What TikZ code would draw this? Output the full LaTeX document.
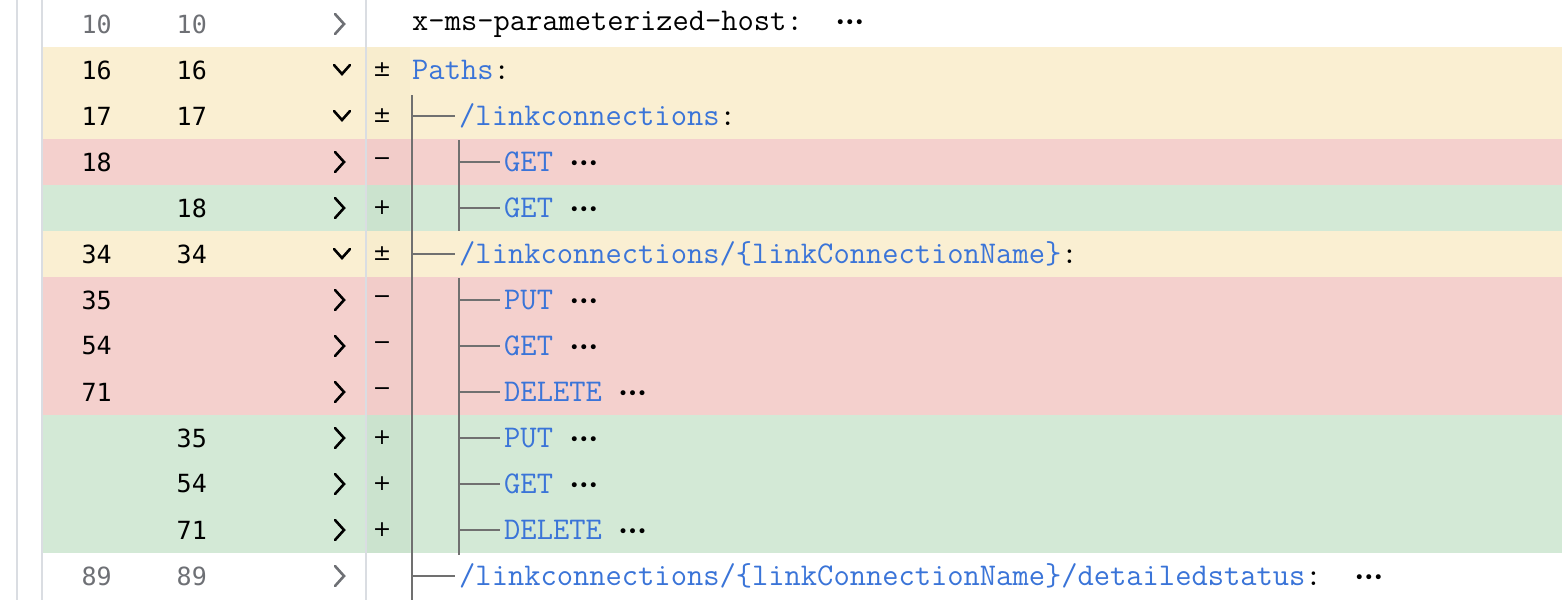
\documentclass[tikz,border=0pt]{standalone}
\usepackage{fontspec}
\newfontfamily\numfont{DejaVu Sans Mono}
\newfontfamily\dvs{DejaVu Sans}
\definecolor{bgY}{HTML}{FAEFD2}
\definecolor{bgR}{HTML}{F4D0CD}
\definecolor{bgG}{HTML}{D3E9D6}
\definecolor{bgGd}{HTML}{CBE3CE}
\definecolor{bgRd}{HTML}{F2CCC9}
\definecolor{bgYd}{HTML}{F8EDCE}
\definecolor{blu}{HTML}{3A74D8}
\definecolor{sep}{HTML}{DADDE2}
\definecolor{gr}{HTML}{6E7075}
\definecolor{tree}{HTML}{707070}
\tikzset{
  num/.style={anchor=east,inner sep=0,font=\numfont\fontsize{25}{25}\selectfont},
  code/.style={anchor=west,inner sep=0,font=\ttfamily\fontsize{31.6}{32}\selectfont},
  signsym/.style={inner sep=0,font=\dvs\fontsize{22}{22}\selectfont},
  treeline/.style={draw=tree,line width=1.3pt},
  chev/.style={line width=2.6pt,line cap=round,line join=miter}
}
\newcommand{\dts}{\ {\dvs\fontsize{17}{17}\selectfont\raisebox{0.2ex}{•\kern-0.5pt•\kern-0.5pt•}}}
\def\dd{d}
\begin{document}
\begin{tikzpicture}[x=1pt,y=-1pt]
\useasboundingbox (0,0) rectangle (1562,600);
\fill[white] (0,0) rectangle (1562,600);
% row backgrounds
\foreach \r/\c/\d in {1/bgY/bgYd,2/bgY/bgYd,3/bgR/bgRd,4/bgG/bgGd,5/bgY/bgYd,6/bgR/bgRd,7/bgR/bgRd,8/bgR/bgRd,9/bgG/bgGd,10/bgG/bgGd,11/bgG/bgGd}{
  \fill[\c] (42,{1+46*\r}) rectangle (1562,{47+46*\r});
  \fill[\d] (366,{1+46*\r}) rectangle (410,{47+46*\r});
}
\draw[sep,line width=1.5pt] (17,0) -- (17,600);
\draw[sep,line width=1.5pt] (42,0) -- (42,600);
\draw[sep,line width=1.5pt] (366,0) -- (366,600);
% numbers, chevrons, marks
\foreach \r/\a/\b/\k/\m/\col in {0/10/10/r//gr,1/16/16/d/±/black,2/17/17/d/±/black,3/18//r/−/black,4//18/r/+/black,5/34/34/d/±/black,6/35//r/−/black,7/54//r/−/black,8/71//r/−/black,9//35/r/+/black,10//54/r/+/black,11//71/r/+/black,12/89/89/r//gr}{
  \node[num,text=\col] (na\r) at (112,{24+46*\r}) {\a};
  \node[num,text=\col] (nb\r) at (207,{24+46*\r}) {\b};
  \node[signsym] (mk\r) at (382,{24+46*\r}) {\m};
  \ifx\k\dd
    \draw[chev,draw=\col] (334,{19+46*\r}) -- (342,{28+46*\r}) -- (350,{19+46*\r});
  \else
    \draw[chev,draw=\col] (335,{14+46*\r}) -- (344,{24+46*\r}) -- (335,{34+46*\r});
  \fi
}
% tree lines
\draw[treeline] (412,95) -- (412,600);
\draw[treeline] (459,140) -- (459,231);
\draw[treeline] (459,278) -- (459,555);
\foreach \r in {2,5,12} \draw[treeline] (412,{24+46*\r}) -- (455,{24+46*\r});
\foreach \r in {3,4,6,7,8,9,10,11} \draw[treeline] (459,{24+46*\r}) -- (500,{24+46*\r});
% texts
\node[code] (t0) at (412,24) {x-ms-parameterized-host:\ \dts};
\node[code] (t1) at (412,70) {\textcolor{blu}{Paths}:};
\node[code] (t2) at (459,116) {\textcolor{blu}{/linkconnections}:};
\node[code] (t3) at (504,162) {\textcolor{blu}{GET}\dts};
\node[code] (t4) at (504,208) {\textcolor{blu}{GET}\dts};
\node[code] (t5) at (459,254) {\textcolor{blu}{/linkconnections/\{linkConnectionName\}}:};
\node[code] (t6) at (504,300) {\textcolor{blu}{PUT}\dts};
\node[code] (t7) at (504,346) {\textcolor{blu}{GET}\dts};
\node[code] (t8) at (504,392) {\textcolor{blu}{DELETE}\dts};
\node[code] (t9) at (504,438) {\textcolor{blu}{PUT}\dts};
\node[code] (t10) at (504,484) {\textcolor{blu}{GET}\dts};
\node[code] (t11) at (504,530) {\textcolor{blu}{DELETE}\dts};
\node[code] (t12) at (459,576) {\textcolor{blu}{/linkconnections/\{linkConnectionName\}/detailedstatus}:\ \dts};
\end{tikzpicture}
\end{document}
